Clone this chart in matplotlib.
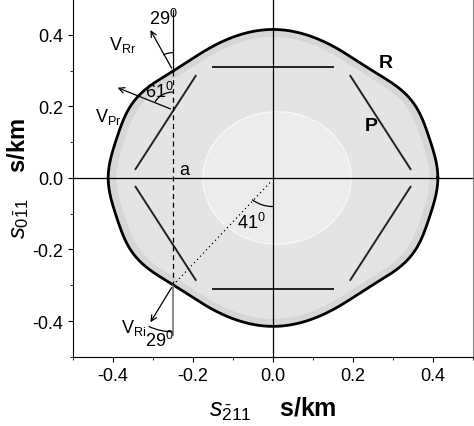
import numpy as np
import matplotlib
matplotlib.use("Agg")
import matplotlib.pyplot as plt
from matplotlib.patches import Polygon, Circle, Arc

plt.rcParams["font.family"] = ["Liberation Sans", "DejaVu Sans"]
plt.rcParams["mathtext.fontset"] = "custom"
plt.rcParams["mathtext.rm"] = "Liberation Sans"
plt.rcParams["mathtext.it"] = "Liberation Sans:italic"
plt.rcParams["mathtext.bf"] = "Liberation Sans:bold"

# R-curve radii (s/km) in first quadrant, mirrored by symmetry
r_angles = [0, 10, 20, 30, 40, 50, 60, 70, 80, 90]
r_radii = [0.41, 0.41, 0.405, 0.41, 0.40, 0.39, 0.39, 0.40, 0.41, 0.415]
p_apothem = 0.31
xticks = [-0.4, -0.2, 0.0, 0.2, 0.4]
yticks = [-0.4, -0.2, 0.0, 0.2, 0.4]

fig = plt.figure(figsize=(4.74, 4.27), dpi=100)
ax = fig.add_axes([0.154, 0.162, 0.844, 0.838])
ax.set_xlim(-0.5, 0.5); ax.set_ylim(-0.5, 0.5)

a = np.array(r_angles, float); r = np.array(r_radii)
ang = np.concatenate([a, 180 - a[::-1][1:], 180 + a[1:], 360 - a[::-1][1:-1]])
rad = np.concatenate([r, r[::-1][1:], r[1:], r[::-1][1:-1]])
th = np.deg2rad(ang)
ks = (2, 4, 6, 8, 10, 12)
M = np.column_stack([np.ones_like(th)] + [np.cos(k * th) for k in ks])
coef, *_ = np.linalg.lstsq(M, rad, rcond=None)
tt = np.linspace(0, 2 * np.pi, 720)
Mt = np.column_stack([np.ones_like(tt)] + [np.cos(k * tt) for k in ks])
rr = Mt @ coef
xs, ys = rr * np.cos(tt), rr * np.sin(tt)
ax.add_patch(Polygon(np.column_stack([xs, ys]), closed=True, facecolor="#d6d6d6", edgecolor="none"))
ax.add_patch(Polygon(np.column_stack([xs * 0.95, ys * 0.95]), closed=True, facecolor="#e4e4e4", edgecolor="none"))
ax.add_patch(Circle((0.01, 0.0), 0.185, facecolor="#ececec", edgecolor="#f7f7f7", lw=1))
ax.plot(xs, ys, color="black", lw=2)

R = p_apothem / np.cos(np.pi / 6)
verts = [(R * np.cos(np.deg2rad(60 * k)), R * np.sin(np.deg2rad(60 * k))) for k in range(7)]
for k in range(6):
    (x0, y0), (x1, y1) = verts[k], verts[k + 1]
    t = np.linspace(0.08, 0.92, 2)
    ax.plot(x0 + (x1 - x0) * t, y0 + (y1 - y0) * t, color="#222222", lw=1.4)

ax.axhline(0, color="black", lw=0.9); ax.axvline(0, color="black", lw=0.9)

ax.plot([-0.25, -0.25], [0.30, -0.30], color="black", lw=0.9, ls=(0, (4, 3)))
ax.plot([-0.25, -0.25], [0.30, 0.47], color="black", lw=0.9)
ax.plot([-0.25, -0.25], [-0.30, -0.44], color="#777777", lw=1.2)
ax.annotate("", xy=(-0.31, 0.42), xytext=(-0.25, 0.30), arrowprops=dict(arrowstyle="->", lw=0.9))
ax.annotate("", xy=(-0.395, 0.255), xytext=(-0.25, 0.19), arrowprops=dict(arrowstyle="->", lw=0.9))
ax.annotate("", xy=(-0.31, -0.41), xytext=(-0.25, -0.30), arrowprops=dict(arrowstyle="->", lw=0.9))
ax.plot([-0.25, -0.005], [-0.30, -0.01], color="black", lw=0.9, ls=(0, (1, 2.5)))
ax.add_patch(Arc((-0.25, 0.30), 0.1, 0.1, theta1=90, theta2=119, lw=0.9))
ax.add_patch(Arc((-0.25, 0.19), 0.1, 0.1, theta1=90, theta2=155, lw=0.9))
ax.add_patch(Arc((-0.25, -0.30), 0.26, 0.26, theta1=242, theta2=270, lw=0.9))
ax.add_patch(Arc((0, 0), 0.16, 0.16, theta1=229, theta2=270, lw=0.9))

fs = 13
ax.text(-0.31, 0.43, "29$^0$", fontsize=fs)
ax.text(-0.41, 0.36, "V$_{\\rm Rr}$", fontsize=fs)
ax.text(-0.32, 0.225, "61$^0$", fontsize=fs)
ax.text(-0.445, 0.16, "V$_{\\rm Pr}$", fontsize=fs)
ax.text(-0.235, 0.01, "a", fontsize=fs)
ax.text(-0.09, -0.14, "41$^0$", fontsize=fs)
ax.text(-0.38, -0.43, "V$_{\\rm Ri}$", fontsize=fs)
ax.text(-0.32, -0.47, "29$^0$", fontsize=fs)
ax.text(0.265, 0.31, "R", fontsize=14, fontweight="bold")
ax.text(0.23, 0.135, "P", fontsize=14, fontweight="bold")

ax.set_xticks(xticks); ax.set_yticks(yticks)
ax.set_xticks(np.arange(-0.5, 0.51, 0.1), minor=True)
ax.set_yticks(np.arange(-0.5, 0.51, 0.1), minor=True)
ax.set_xticklabels([f"{v:.1f}" for v in xticks]); ax.set_yticklabels([f"{v:.1f}" for v in yticks])
ax.tick_params(labelsize=13)
ax.spines["top"].set_visible(False)
ax.spines["right"].set_color("#888888")
ax.set_xlabel("$s_{\\bar{2}11}$    $\\mathbf{s/km}$", fontsize=18, labelpad=8)
ax.set_ylabel("$s_{0\\bar{1}1}$    $\\mathbf{s/km}$", fontsize=17, labelpad=1)
fig.savefig("out.png", dpi=100)
